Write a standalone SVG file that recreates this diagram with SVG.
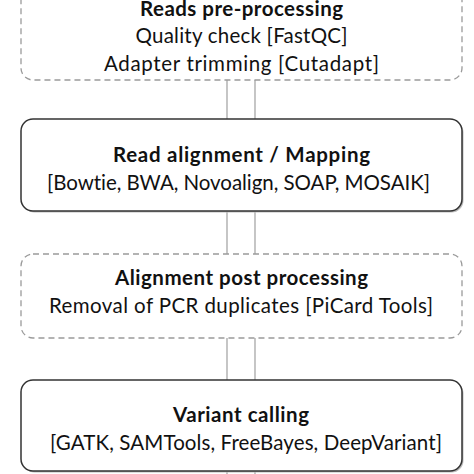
<svg xmlns="http://www.w3.org/2000/svg" width="474" height="474" viewBox="0 0 474 474">
<style>
.dash{fill:#fff;stroke:#9a9a9a;stroke-width:1.3;stroke-dasharray:6 4}
.solid{fill:#fff;stroke:#333;stroke-width:1.5}
.sh{fill:#bbb;stroke:none}
.conn{stroke:#a0a0a0;stroke-width:1.2;fill:none}
text{font-family:"Lato","Liberation Sans",sans-serif;font-size:20.5px;fill:#111;text-anchor:middle;font-variant-ligatures:none}
.b{font-weight:bold}
</style>
<rect width="474" height="474" fill="#fff"/>
<g id="connectors">
<path class="conn" d="M227,80V119M255,80V119M227,211V254M255,211V254M227,338V380M255,338V380M227,471V474M255,471V474"/>
</g>
<g id="node1">
<rect class="dash" x="21" y="-30" width="441" height="110" rx="12"/>
<text class="b" x="241.5" y="15.5" textLength="203">Reads pre-processing</text>
<text x="241.5" y="43" textLength="212">Quality check [FastQC]</text>
<text x="241.5" y="71" textLength="275">Adapter trimming [Cutadapt]</text>
</g>
<g id="node2">
<rect class="sh" x="22.5" y="120.5" width="441" height="92" rx="12"/>
<rect class="solid" x="21" y="119" width="441" height="92" rx="12"/>
<text class="b" x="241.5" y="162" textLength="257">Read alignment / Mapping</text>
<text x="238.5" y="190" textLength="383">[Bowtie, BWA, Novoalign, SOAP, MOSAIK]</text>
</g>
<g id="node3">
<rect class="dash" x="21" y="254" width="441" height="84" rx="12"/>
<text class="b" x="241.5" y="285" textLength="253">Alignment post processing</text>
<text x="241" y="313" textLength="384">Removal of PCR duplicates [PiCard Tools]</text>
</g>
<g id="node4">
<rect class="sh" x="22.5" y="381.5" width="441" height="91" rx="12"/>
<rect class="solid" x="21" y="380" width="441" height="91" rx="12"/>
<text class="b" x="241" y="422" textLength="136">Variant calling</text>
<text x="246" y="450" textLength="392">[GATK, SAMTools, FreeBayes, DeepVariant]</text>
</g>
</svg>
